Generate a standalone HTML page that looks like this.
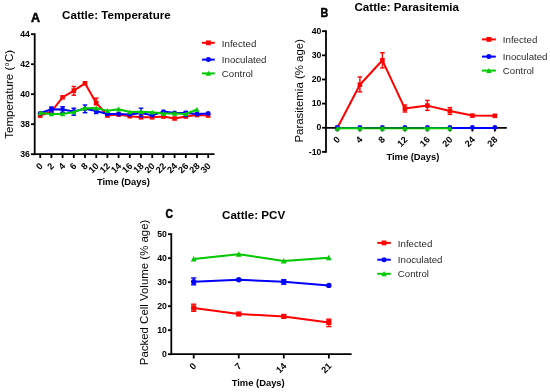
<!DOCTYPE html>
<html><head><meta charset="utf-8"><style>
html,body{margin:0;padding:0;background:#fff;}
svg{display:block;font-family:"Liberation Sans",Arial,sans-serif;}
</style></head><body>
<svg width="550" height="392" viewBox="0 0 550 392">
<rect width="550" height="392" fill="#fff"/>
<line x1="34.7" y1="33.3" x2="34.7" y2="155.1" stroke="#000" stroke-width="1.8"/>
<line x1="33.8" y1="154.2" x2="214.5" y2="154.2" stroke="#000" stroke-width="1.8"/>
<line x1="31" y1="34.2" x2="34.7" y2="34.2" stroke="#000" stroke-width="1.8"/>
<text x="29.8" y="36.8" font-size="8.7" font-weight="bold" text-anchor="end" fill="#000">44</text>
<line x1="31" y1="64.2" x2="34.7" y2="64.2" stroke="#000" stroke-width="1.8"/>
<text x="29.8" y="66.8" font-size="8.7" font-weight="bold" text-anchor="end" fill="#000">42</text>
<line x1="31" y1="94.2" x2="34.7" y2="94.2" stroke="#000" stroke-width="1.8"/>
<text x="29.8" y="96.8" font-size="8.7" font-weight="bold" text-anchor="end" fill="#000">40</text>
<line x1="31" y1="124.2" x2="34.7" y2="124.2" stroke="#000" stroke-width="1.8"/>
<text x="29.8" y="126.8" font-size="8.7" font-weight="bold" text-anchor="end" fill="#000">38</text>
<line x1="31" y1="154.2" x2="34.7" y2="154.2" stroke="#000" stroke-width="1.8"/>
<text x="29.8" y="156.8" font-size="8.7" font-weight="bold" text-anchor="end" fill="#000">36</text>
<line x1="40.2" y1="154.2" x2="40.2" y2="158" stroke="#000" stroke-width="1.8"/>
<text x="43.5" y="166.6" font-size="9.2" font-weight="bold" text-anchor="end" fill="#000" transform="rotate(-45 43.5 166.6)">0</text>
<line x1="51.4" y1="154.2" x2="51.4" y2="158" stroke="#000" stroke-width="1.8"/>
<text x="54.7" y="166.6" font-size="9.2" font-weight="bold" text-anchor="end" fill="#000" transform="rotate(-45 54.7 166.6)">2</text>
<line x1="62.6" y1="154.2" x2="62.6" y2="158" stroke="#000" stroke-width="1.8"/>
<text x="65.9" y="166.6" font-size="9.2" font-weight="bold" text-anchor="end" fill="#000" transform="rotate(-45 65.9 166.6)">4</text>
<line x1="73.8" y1="154.2" x2="73.8" y2="158" stroke="#000" stroke-width="1.8"/>
<text x="77.1" y="166.6" font-size="9.2" font-weight="bold" text-anchor="end" fill="#000" transform="rotate(-45 77.1 166.6)">6</text>
<line x1="85" y1="154.2" x2="85" y2="158" stroke="#000" stroke-width="1.8"/>
<text x="88.3" y="166.6" font-size="9.2" font-weight="bold" text-anchor="end" fill="#000" transform="rotate(-45 88.3 166.6)">8</text>
<line x1="96.2" y1="154.2" x2="96.2" y2="158" stroke="#000" stroke-width="1.8"/>
<text x="99.5" y="166.6" font-size="9.2" font-weight="bold" text-anchor="end" fill="#000" transform="rotate(-45 99.5 166.6)">10</text>
<line x1="107.4" y1="154.2" x2="107.4" y2="158" stroke="#000" stroke-width="1.8"/>
<text x="110.7" y="166.6" font-size="9.2" font-weight="bold" text-anchor="end" fill="#000" transform="rotate(-45 110.7 166.6)">12</text>
<line x1="118.6" y1="154.2" x2="118.6" y2="158" stroke="#000" stroke-width="1.8"/>
<text x="121.9" y="166.6" font-size="9.2" font-weight="bold" text-anchor="end" fill="#000" transform="rotate(-45 121.9 166.6)">14</text>
<line x1="129.8" y1="154.2" x2="129.8" y2="158" stroke="#000" stroke-width="1.8"/>
<text x="133.1" y="166.6" font-size="9.2" font-weight="bold" text-anchor="end" fill="#000" transform="rotate(-45 133.1 166.6)">16</text>
<line x1="141" y1="154.2" x2="141" y2="158" stroke="#000" stroke-width="1.8"/>
<text x="144.3" y="166.6" font-size="9.2" font-weight="bold" text-anchor="end" fill="#000" transform="rotate(-45 144.3 166.6)">18</text>
<line x1="152.2" y1="154.2" x2="152.2" y2="158" stroke="#000" stroke-width="1.8"/>
<text x="155.5" y="166.6" font-size="9.2" font-weight="bold" text-anchor="end" fill="#000" transform="rotate(-45 155.5 166.6)">20</text>
<line x1="163.4" y1="154.2" x2="163.4" y2="158" stroke="#000" stroke-width="1.8"/>
<text x="166.7" y="166.6" font-size="9.2" font-weight="bold" text-anchor="end" fill="#000" transform="rotate(-45 166.7 166.6)">22</text>
<line x1="174.6" y1="154.2" x2="174.6" y2="158" stroke="#000" stroke-width="1.8"/>
<text x="177.9" y="166.6" font-size="9.2" font-weight="bold" text-anchor="end" fill="#000" transform="rotate(-45 177.9 166.6)">24</text>
<line x1="185.8" y1="154.2" x2="185.8" y2="158" stroke="#000" stroke-width="1.8"/>
<text x="189.1" y="166.6" font-size="9.2" font-weight="bold" text-anchor="end" fill="#000" transform="rotate(-45 189.1 166.6)">26</text>
<line x1="197" y1="154.2" x2="197" y2="158" stroke="#000" stroke-width="1.8"/>
<text x="200.3" y="166.6" font-size="9.2" font-weight="bold" text-anchor="end" fill="#000" transform="rotate(-45 200.3 166.6)">28</text>
<line x1="208.2" y1="154.2" x2="208.2" y2="158" stroke="#000" stroke-width="1.8"/>
<text x="211.5" y="166.6" font-size="9.2" font-weight="bold" text-anchor="end" fill="#000" transform="rotate(-45 211.5 166.6)">30</text>
<text x="123.4" y="185" font-size="9.4" font-weight="bold" text-anchor="middle" fill="#000">Time (Days)</text>
<text x="12.8" y="94.3" font-size="11.6" font-weight="normal" text-anchor="middle" fill="#000" transform="rotate(-90 12.8 94.3)">Temperature (°C)</text>
<text x="35.4" y="21.8" font-size="12.5" font-weight="bold" text-anchor="middle" fill="#000" stroke="#000" stroke-width="0.5">A</text>
<text x="116.4" y="18.9" font-size="11.6" font-weight="bold" text-anchor="middle" fill="#000">Cattle: Temperature</text>
<polyline points="40.2,115.6 51.4,111.5 62.6,97.3 73.8,90.6 85,83.3 96.2,102.9 107.4,115.5 118.6,114.6 129.8,116.2 141,117.3 152.2,117.3 163.4,116.5 174.6,118.5 185.8,116.5 197,115 208.2,115.5" fill="none" stroke="#ff0000" stroke-width="2" stroke-linejoin="round"/>
<line x1="73.8" y1="86.5" x2="73.8" y2="95.2" stroke="#ff0000" stroke-width="1.4"/>
<line x1="71.5" y1="86.5" x2="76.1" y2="86.5" stroke="#ff0000" stroke-width="1.4"/>
<line x1="71.5" y1="95.2" x2="76.1" y2="95.2" stroke="#ff0000" stroke-width="1.4"/>
<line x1="96.2" y1="98.1" x2="96.2" y2="104.7" stroke="#ff0000" stroke-width="1.4"/>
<line x1="93.9" y1="98.1" x2="98.5" y2="98.1" stroke="#ff0000" stroke-width="1.4"/>
<line x1="93.9" y1="104.7" x2="98.5" y2="104.7" stroke="#ff0000" stroke-width="1.4"/>
<rect x="37.9" y="113.3" width="4.6" height="4.6" fill="#ff0000"/>
<rect x="49.1" y="109.2" width="4.6" height="4.6" fill="#ff0000"/>
<rect x="60.3" y="95" width="4.6" height="4.6" fill="#ff0000"/>
<rect x="71.5" y="88.3" width="4.6" height="4.6" fill="#ff0000"/>
<rect x="82.7" y="81" width="4.6" height="4.6" fill="#ff0000"/>
<rect x="93.9" y="100.6" width="4.6" height="4.6" fill="#ff0000"/>
<rect x="105.1" y="113.2" width="4.6" height="4.6" fill="#ff0000"/>
<rect x="116.3" y="112.3" width="4.6" height="4.6" fill="#ff0000"/>
<rect x="127.5" y="113.9" width="4.6" height="4.6" fill="#ff0000"/>
<rect x="138.7" y="115" width="4.6" height="4.6" fill="#ff0000"/>
<rect x="149.9" y="115" width="4.6" height="4.6" fill="#ff0000"/>
<rect x="161.1" y="114.2" width="4.6" height="4.6" fill="#ff0000"/>
<rect x="172.3" y="116.2" width="4.6" height="4.6" fill="#ff0000"/>
<rect x="183.5" y="114.2" width="4.6" height="4.6" fill="#ff0000"/>
<rect x="194.7" y="112.7" width="4.6" height="4.6" fill="#ff0000"/>
<rect x="205.9" y="113.2" width="4.6" height="4.6" fill="#ff0000"/>
<polyline points="40.2,113.3 51.4,109.2 62.6,109.5 73.8,111.4 85,108.8 96.2,111 107.4,114 118.6,114 129.8,114.4 141,113 152.2,115.2 163.4,111.6 174.6,113 185.8,113 197,114 208.2,113.5" fill="none" stroke="#0000ff" stroke-width="2" stroke-linejoin="round"/>
<line x1="51.4" y1="107" x2="51.4" y2="112" stroke="#0000ff" stroke-width="1.4"/>
<line x1="49.1" y1="107" x2="53.7" y2="107" stroke="#0000ff" stroke-width="1.4"/>
<line x1="49.1" y1="112" x2="53.7" y2="112" stroke="#0000ff" stroke-width="1.4"/>
<line x1="62.6" y1="106.8" x2="62.6" y2="112.5" stroke="#0000ff" stroke-width="1.4"/>
<line x1="60.3" y1="106.8" x2="64.9" y2="106.8" stroke="#0000ff" stroke-width="1.4"/>
<line x1="60.3" y1="112.5" x2="64.9" y2="112.5" stroke="#0000ff" stroke-width="1.4"/>
<line x1="73.8" y1="108.2" x2="73.8" y2="115.2" stroke="#0000ff" stroke-width="1.4"/>
<line x1="71.5" y1="108.2" x2="76.1" y2="108.2" stroke="#0000ff" stroke-width="1.4"/>
<line x1="71.5" y1="115.2" x2="76.1" y2="115.2" stroke="#0000ff" stroke-width="1.4"/>
<line x1="85" y1="105" x2="85" y2="112.7" stroke="#0000ff" stroke-width="1.4"/>
<line x1="82.7" y1="105" x2="87.3" y2="105" stroke="#0000ff" stroke-width="1.4"/>
<line x1="82.7" y1="112.7" x2="87.3" y2="112.7" stroke="#0000ff" stroke-width="1.4"/>
<line x1="96.2" y1="108.5" x2="96.2" y2="113.5" stroke="#0000ff" stroke-width="1.4"/>
<line x1="93.9" y1="108.5" x2="98.5" y2="108.5" stroke="#0000ff" stroke-width="1.4"/>
<line x1="93.9" y1="113.5" x2="98.5" y2="113.5" stroke="#0000ff" stroke-width="1.4"/>
<line x1="141" y1="108.2" x2="141" y2="116.8" stroke="#0000ff" stroke-width="1.4"/>
<line x1="138.7" y1="108.2" x2="143.3" y2="108.2" stroke="#0000ff" stroke-width="1.4"/>
<line x1="138.7" y1="116.8" x2="143.3" y2="116.8" stroke="#0000ff" stroke-width="1.4"/>
<line x1="185.8" y1="111.5" x2="185.8" y2="116.5" stroke="#0000ff" stroke-width="1.4"/>
<line x1="183.5" y1="111.5" x2="188.1" y2="111.5" stroke="#0000ff" stroke-width="1.4"/>
<line x1="183.5" y1="116.5" x2="188.1" y2="116.5" stroke="#0000ff" stroke-width="1.4"/>
<circle cx="40.2" cy="113.3" r="2.4" fill="#0000ff"/>
<circle cx="51.4" cy="109.2" r="2.4" fill="#0000ff"/>
<circle cx="62.6" cy="109.5" r="2.4" fill="#0000ff"/>
<circle cx="73.8" cy="111.4" r="2.4" fill="#0000ff"/>
<circle cx="85" cy="108.8" r="2.4" fill="#0000ff"/>
<circle cx="96.2" cy="111" r="2.4" fill="#0000ff"/>
<circle cx="107.4" cy="114" r="2.4" fill="#0000ff"/>
<circle cx="118.6" cy="114" r="2.4" fill="#0000ff"/>
<circle cx="129.8" cy="114.4" r="2.4" fill="#0000ff"/>
<circle cx="141" cy="113" r="2.4" fill="#0000ff"/>
<circle cx="152.2" cy="115.2" r="2.4" fill="#0000ff"/>
<circle cx="163.4" cy="111.6" r="2.4" fill="#0000ff"/>
<circle cx="174.6" cy="113" r="2.4" fill="#0000ff"/>
<circle cx="185.8" cy="113" r="2.4" fill="#0000ff"/>
<circle cx="197" cy="114" r="2.4" fill="#0000ff"/>
<circle cx="208.2" cy="113.5" r="2.4" fill="#0000ff"/>
<polyline points="40.2,113 51.4,114 62.6,114 73.8,112 85,108.2 96.2,108.1 107.4,110.7 118.6,109.2 129.8,112 141,111.8 152.2,112.3 163.4,113.6 174.6,113.5 185.8,114 197,109.5" fill="none" stroke="#00c800" stroke-width="2" stroke-linejoin="round"/>
<polygon points="37.6,115.3 42.8,115.3 40.2,110.4" fill="#00c800"/>
<polygon points="48.8,116.3 54,116.3 51.4,111.4" fill="#00c800"/>
<polygon points="60,116.3 65.2,116.3 62.6,111.4" fill="#00c800"/>
<polygon points="71.2,114.3 76.4,114.3 73.8,109.4" fill="#00c800"/>
<polygon points="82.4,110.5 87.6,110.5 85,105.6" fill="#00c800"/>
<polygon points="93.6,110.4 98.8,110.4 96.2,105.5" fill="#00c800"/>
<polygon points="104.8,113 110,113 107.4,108.1" fill="#00c800"/>
<polygon points="116,111.5 121.2,111.5 118.6,106.6" fill="#00c800"/>
<polygon points="127.2,114.3 132.4,114.3 129.8,109.4" fill="#00c800"/>
<polygon points="138.4,114.1 143.6,114.1 141,109.2" fill="#00c800"/>
<polygon points="149.6,114.6 154.8,114.6 152.2,109.7" fill="#00c800"/>
<polygon points="160.8,115.9 166,115.9 163.4,111" fill="#00c800"/>
<polygon points="172,115.8 177.2,115.8 174.6,110.9" fill="#00c800"/>
<polygon points="183.2,116.3 188.4,116.3 185.8,111.4" fill="#00c800"/>
<polygon points="194.4,111.8 199.6,111.8 197,106.9" fill="#00c800"/>
<line x1="202" y1="42.8" x2="214.8" y2="42.8" stroke="#ff0000" stroke-width="2"/>
<rect x="206" y="40.4" width="4.8" height="4.8" fill="#ff0000"/>
<text x="221.8" y="46.6" font-size="9.7" font-weight="normal" text-anchor="start" fill="#2a2a2a">Infected</text>
<line x1="202" y1="59.6" x2="214.8" y2="59.6" stroke="#0000ff" stroke-width="2"/>
<circle cx="208.4" cy="59.6" r="2.5" fill="#0000ff"/>
<text x="221.8" y="63.4" font-size="9.7" font-weight="normal" text-anchor="start" fill="#2a2a2a">Inoculated</text>
<line x1="202" y1="73.4" x2="214.8" y2="73.4" stroke="#00c800" stroke-width="2"/>
<polygon points="205.7,75.8 211.1,75.8 208.4,70.7" fill="#00c800"/>
<text x="221.8" y="77.2" font-size="9.7" font-weight="normal" text-anchor="start" fill="#2a2a2a">Control</text>
<line x1="326" y1="30.3" x2="326" y2="152.8" stroke="#000" stroke-width="1.8"/>
<line x1="325.1" y1="127.8" x2="506.8" y2="127.8" stroke="#000" stroke-width="1.8"/>
<line x1="322" y1="31.2" x2="326" y2="31.2" stroke="#000" stroke-width="1.8"/>
<text x="321.3" y="33.8" font-size="8.7" font-weight="bold" text-anchor="end" fill="#000">40</text>
<line x1="322" y1="55.34" x2="326" y2="55.34" stroke="#000" stroke-width="1.8"/>
<text x="321.3" y="57.94" font-size="8.7" font-weight="bold" text-anchor="end" fill="#000">30</text>
<line x1="322" y1="79.48" x2="326" y2="79.48" stroke="#000" stroke-width="1.8"/>
<text x="321.3" y="82.08" font-size="8.7" font-weight="bold" text-anchor="end" fill="#000">20</text>
<line x1="322" y1="103.62" x2="326" y2="103.62" stroke="#000" stroke-width="1.8"/>
<text x="321.3" y="106.22" font-size="8.7" font-weight="bold" text-anchor="end" fill="#000">10</text>
<line x1="322" y1="127.76" x2="326" y2="127.76" stroke="#000" stroke-width="1.8"/>
<text x="321.3" y="130.36" font-size="8.7" font-weight="bold" text-anchor="end" fill="#000">0</text>
<line x1="322" y1="151.9" x2="326" y2="151.9" stroke="#000" stroke-width="1.8"/>
<text x="321.3" y="154.5" font-size="8.7" font-weight="bold" text-anchor="end" fill="#000">-10</text>
<line x1="337.4" y1="127.8" x2="337.4" y2="131.5" stroke="#000" stroke-width="1.8"/>
<text x="340.7" y="140.2" font-size="9.2" font-weight="bold" text-anchor="end" fill="#000" transform="rotate(-45 340.7 140.2)">0</text>
<line x1="359.9" y1="127.8" x2="359.9" y2="131.5" stroke="#000" stroke-width="1.8"/>
<text x="363.2" y="140.2" font-size="9.2" font-weight="bold" text-anchor="end" fill="#000" transform="rotate(-45 363.2 140.2)">4</text>
<line x1="382.4" y1="127.8" x2="382.4" y2="131.5" stroke="#000" stroke-width="1.8"/>
<text x="385.7" y="140.2" font-size="9.2" font-weight="bold" text-anchor="end" fill="#000" transform="rotate(-45 385.7 140.2)">8</text>
<line x1="404.9" y1="127.8" x2="404.9" y2="131.5" stroke="#000" stroke-width="1.8"/>
<text x="408.2" y="140.2" font-size="9.2" font-weight="bold" text-anchor="end" fill="#000" transform="rotate(-45 408.2 140.2)">12</text>
<line x1="427.4" y1="127.8" x2="427.4" y2="131.5" stroke="#000" stroke-width="1.8"/>
<text x="430.7" y="140.2" font-size="9.2" font-weight="bold" text-anchor="end" fill="#000" transform="rotate(-45 430.7 140.2)">16</text>
<line x1="449.9" y1="127.8" x2="449.9" y2="131.5" stroke="#000" stroke-width="1.8"/>
<text x="453.2" y="140.2" font-size="9.2" font-weight="bold" text-anchor="end" fill="#000" transform="rotate(-45 453.2 140.2)">20</text>
<line x1="472.4" y1="127.8" x2="472.4" y2="131.5" stroke="#000" stroke-width="1.8"/>
<text x="475.7" y="140.2" font-size="9.2" font-weight="bold" text-anchor="end" fill="#000" transform="rotate(-45 475.7 140.2)">24</text>
<line x1="494.9" y1="127.8" x2="494.9" y2="131.5" stroke="#000" stroke-width="1.8"/>
<text x="498.2" y="140.2" font-size="9.2" font-weight="bold" text-anchor="end" fill="#000" transform="rotate(-45 498.2 140.2)">28</text>
<text x="412.9" y="159.6" font-size="9.4" font-weight="bold" text-anchor="middle" fill="#000">Time (Days)</text>
<text x="303" y="90.8" font-size="11.45" font-weight="normal" text-anchor="middle" fill="#000" transform="rotate(-90 303 90.8)">Parasitemia (% age)</text>
<text transform="translate(324.3 16.6) scale(0.84 1)" font-size="12.8" font-weight="bold" text-anchor="middle" stroke="#000" stroke-width="0.5">B</text>
<text x="406.7" y="11.4" font-size="11.6" font-weight="bold" text-anchor="middle" fill="#000">Cattle: Parasitemia</text>
<polyline points="337.4,127.8 359.9,84.7 382.4,60.3 404.9,108.6 427.4,105.6 449.9,111 472.4,115.6 494.9,115.8" fill="none" stroke="#ff0000" stroke-width="2" stroke-linejoin="round"/>
<line x1="359.9" y1="77" x2="359.9" y2="91.8" stroke="#ff0000" stroke-width="1.4"/>
<line x1="357.6" y1="77" x2="362.2" y2="77" stroke="#ff0000" stroke-width="1.4"/>
<line x1="357.6" y1="91.8" x2="362.2" y2="91.8" stroke="#ff0000" stroke-width="1.4"/>
<line x1="382.4" y1="52.7" x2="382.4" y2="67.9" stroke="#ff0000" stroke-width="1.4"/>
<line x1="380.1" y1="52.7" x2="384.7" y2="52.7" stroke="#ff0000" stroke-width="1.4"/>
<line x1="380.1" y1="67.9" x2="384.7" y2="67.9" stroke="#ff0000" stroke-width="1.4"/>
<line x1="404.9" y1="105" x2="404.9" y2="112" stroke="#ff0000" stroke-width="1.4"/>
<line x1="402.6" y1="105" x2="407.2" y2="105" stroke="#ff0000" stroke-width="1.4"/>
<line x1="402.6" y1="112" x2="407.2" y2="112" stroke="#ff0000" stroke-width="1.4"/>
<line x1="427.4" y1="100.4" x2="427.4" y2="110.4" stroke="#ff0000" stroke-width="1.4"/>
<line x1="425.1" y1="100.4" x2="429.7" y2="100.4" stroke="#ff0000" stroke-width="1.4"/>
<line x1="425.1" y1="110.4" x2="429.7" y2="110.4" stroke="#ff0000" stroke-width="1.4"/>
<line x1="449.9" y1="107.6" x2="449.9" y2="114.4" stroke="#ff0000" stroke-width="1.4"/>
<line x1="447.6" y1="107.6" x2="452.2" y2="107.6" stroke="#ff0000" stroke-width="1.4"/>
<line x1="447.6" y1="114.4" x2="452.2" y2="114.4" stroke="#ff0000" stroke-width="1.4"/>
<rect x="335.1" y="125.5" width="4.6" height="4.6" fill="#ff0000"/>
<rect x="357.6" y="82.4" width="4.6" height="4.6" fill="#ff0000"/>
<rect x="380.1" y="58" width="4.6" height="4.6" fill="#ff0000"/>
<rect x="402.6" y="106.3" width="4.6" height="4.6" fill="#ff0000"/>
<rect x="425.1" y="103.3" width="4.6" height="4.6" fill="#ff0000"/>
<rect x="447.6" y="108.7" width="4.6" height="4.6" fill="#ff0000"/>
<rect x="470.1" y="113.3" width="4.6" height="4.6" fill="#ff0000"/>
<rect x="492.6" y="113.5" width="4.6" height="4.6" fill="#ff0000"/>
<polyline points="337.4,128.1 494.9,128.1" fill="none" stroke="#0000ff" stroke-width="2" stroke-linejoin="round"/>
<circle cx="337.4" cy="127.5" r="2.4" fill="#0000ff"/>
<circle cx="359.9" cy="127.5" r="2.4" fill="#0000ff"/>
<circle cx="382.4" cy="127.5" r="2.4" fill="#0000ff"/>
<circle cx="404.9" cy="127.5" r="2.4" fill="#0000ff"/>
<circle cx="427.4" cy="127.5" r="2.4" fill="#0000ff"/>
<circle cx="449.9" cy="127.5" r="2.4" fill="#0000ff"/>
<circle cx="472.4" cy="127.5" r="2.4" fill="#0000ff"/>
<circle cx="494.9" cy="127.5" r="2.4" fill="#0000ff"/>
<polyline points="337.4,128.2 449.9,128.2" fill="none" stroke="#00c800" stroke-width="2.1" stroke-linejoin="round"/>
<line x1="364" y1="128.1" x2="424" y2="128.1" stroke="rgba(0,0,0,0.45)" stroke-width="0.9"/>
<polygon points="334.8,130.7 340,130.7 337.4,125.8" fill="#00c800"/>
<polygon points="357.3,130.7 362.5,130.7 359.9,125.8" fill="#00c800"/>
<polygon points="379.8,130.7 385,130.7 382.4,125.8" fill="#00c800"/>
<polygon points="402.3,130.7 407.5,130.7 404.9,125.8" fill="#00c800"/>
<polygon points="424.8,130.7 430,130.7 427.4,125.8" fill="#00c800"/>
<polygon points="447.3,130.7 452.5,130.7 449.9,125.8" fill="#00c800"/>
<line x1="482" y1="39.4" x2="495.8" y2="39.4" stroke="#ff0000" stroke-width="2"/>
<rect x="486.5" y="37" width="4.8" height="4.8" fill="#ff0000"/>
<text x="502.8" y="43.1" font-size="9.7" font-weight="normal" text-anchor="start" fill="#2a2a2a">Infected</text>
<line x1="482" y1="56.6" x2="495.8" y2="56.6" stroke="#0000ff" stroke-width="2"/>
<circle cx="488.9" cy="56.6" r="2.5" fill="#0000ff"/>
<text x="502.8" y="60.3" font-size="9.7" font-weight="normal" text-anchor="start" fill="#2a2a2a">Inoculated</text>
<line x1="482" y1="70.6" x2="495.8" y2="70.6" stroke="#00c800" stroke-width="2"/>
<polygon points="486.2,73 491.6,73 488.9,67.9" fill="#00c800"/>
<text x="502.8" y="74.3" font-size="9.7" font-weight="normal" text-anchor="start" fill="#2a2a2a">Control</text>
<line x1="171.3" y1="233.3" x2="171.3" y2="355.1" stroke="#000" stroke-width="1.8"/>
<line x1="170.4" y1="354.2" x2="351.6" y2="354.2" stroke="#000" stroke-width="1.8"/>
<line x1="168" y1="234.2" x2="171.3" y2="234.2" stroke="#000" stroke-width="1.8"/>
<text x="166.8" y="236.8" font-size="8.7" font-weight="bold" text-anchor="end" fill="#000">50</text>
<line x1="168" y1="258.2" x2="171.3" y2="258.2" stroke="#000" stroke-width="1.8"/>
<text x="166.8" y="260.8" font-size="8.7" font-weight="bold" text-anchor="end" fill="#000">40</text>
<line x1="168" y1="282.2" x2="171.3" y2="282.2" stroke="#000" stroke-width="1.8"/>
<text x="166.8" y="284.8" font-size="8.7" font-weight="bold" text-anchor="end" fill="#000">30</text>
<line x1="168" y1="306.2" x2="171.3" y2="306.2" stroke="#000" stroke-width="1.8"/>
<text x="166.8" y="308.8" font-size="8.7" font-weight="bold" text-anchor="end" fill="#000">20</text>
<line x1="168" y1="330.2" x2="171.3" y2="330.2" stroke="#000" stroke-width="1.8"/>
<text x="166.8" y="332.8" font-size="8.7" font-weight="bold" text-anchor="end" fill="#000">10</text>
<line x1="168" y1="354.2" x2="171.3" y2="354.2" stroke="#000" stroke-width="1.8"/>
<text x="166.8" y="356.8" font-size="8.7" font-weight="bold" text-anchor="end" fill="#000">0</text>
<line x1="193.7" y1="354.2" x2="193.7" y2="358.5" stroke="#000" stroke-width="1.8"/>
<text x="197" y="366.6" font-size="9.2" font-weight="bold" text-anchor="end" fill="#000" transform="rotate(-45 197 366.6)">0</text>
<line x1="238.75" y1="354.2" x2="238.75" y2="358.5" stroke="#000" stroke-width="1.8"/>
<text x="242.05" y="366.6" font-size="9.2" font-weight="bold" text-anchor="end" fill="#000" transform="rotate(-45 242.05 366.6)">7</text>
<line x1="283.8" y1="354.2" x2="283.8" y2="358.5" stroke="#000" stroke-width="1.8"/>
<text x="287.1" y="366.6" font-size="9.2" font-weight="bold" text-anchor="end" fill="#000" transform="rotate(-45 287.1 366.6)">14</text>
<line x1="328.85" y1="354.2" x2="328.85" y2="358.5" stroke="#000" stroke-width="1.8"/>
<text x="332.15" y="366.6" font-size="9.2" font-weight="bold" text-anchor="end" fill="#000" transform="rotate(-45 332.15 366.6)">21</text>
<text x="258.2" y="385.5" font-size="9.4" font-weight="bold" text-anchor="middle" fill="#000">Time (Days)</text>
<text x="147.6" y="292.4" font-size="11.45" font-weight="normal" text-anchor="middle" fill="#000" transform="rotate(-90 147.6 292.4)">Packed Cell Volume (% age)</text>
<text transform="translate(169.2 217.9) scale(0.86 1)" font-size="12" font-weight="bold" text-anchor="middle" stroke="#000" stroke-width="0.5">C</text>
<text x="253.6" y="218.8" font-size="11.6" font-weight="bold" text-anchor="middle" fill="#000">Cattle: PCV</text>
<polyline points="193.7,307.9 238.75,314 283.8,316.4 328.85,322.4" fill="none" stroke="#ff0000" stroke-width="2" stroke-linejoin="round"/>
<line x1="193.7" y1="304.2" x2="193.7" y2="311.3" stroke="#ff0000" stroke-width="1.4"/>
<line x1="191.1" y1="304.2" x2="196.3" y2="304.2" stroke="#ff0000" stroke-width="1.4"/>
<line x1="191.1" y1="311.3" x2="196.3" y2="311.3" stroke="#ff0000" stroke-width="1.4"/>
<line x1="328.85" y1="319.2" x2="328.85" y2="326.6" stroke="#ff0000" stroke-width="1.4"/>
<line x1="326.25" y1="319.2" x2="331.45" y2="319.2" stroke="#ff0000" stroke-width="1.4"/>
<line x1="326.25" y1="326.6" x2="331.45" y2="326.6" stroke="#ff0000" stroke-width="1.4"/>
<rect x="191.1" y="305.3" width="5.2" height="5.2" fill="#ff0000"/>
<rect x="236.15" y="311.4" width="5.2" height="5.2" fill="#ff0000"/>
<rect x="281.2" y="313.8" width="5.2" height="5.2" fill="#ff0000"/>
<rect x="326.25" y="319.8" width="5.2" height="5.2" fill="#ff0000"/>
<polyline points="193.7,281.7 238.75,279.7 283.8,281.7 328.85,285.4" fill="none" stroke="#0000ff" stroke-width="2" stroke-linejoin="round"/>
<line x1="193.7" y1="278" x2="193.7" y2="284.8" stroke="#0000ff" stroke-width="1.4"/>
<line x1="191.1" y1="278" x2="196.3" y2="278" stroke="#0000ff" stroke-width="1.4"/>
<line x1="191.1" y1="284.8" x2="196.3" y2="284.8" stroke="#0000ff" stroke-width="1.4"/>
<line x1="283.8" y1="279.7" x2="283.8" y2="284.2" stroke="#0000ff" stroke-width="1.4"/>
<line x1="281.2" y1="279.7" x2="286.4" y2="279.7" stroke="#0000ff" stroke-width="1.4"/>
<line x1="281.2" y1="284.2" x2="286.4" y2="284.2" stroke="#0000ff" stroke-width="1.4"/>
<circle cx="193.7" cy="281.7" r="2.7" fill="#0000ff"/>
<circle cx="238.75" cy="279.7" r="2.7" fill="#0000ff"/>
<circle cx="283.8" cy="281.7" r="2.7" fill="#0000ff"/>
<circle cx="328.85" cy="285.4" r="2.7" fill="#0000ff"/>
<polyline points="193.7,258.9 238.75,254.2 283.8,260.9 328.85,257.7" fill="none" stroke="#00c800" stroke-width="2" stroke-linejoin="round"/>
<polygon points="190.8,261.5 196.6,261.5 193.7,256" fill="#00c800"/>
<polygon points="235.85,256.8 241.65,256.8 238.75,251.3" fill="#00c800"/>
<polygon points="280.9,263.5 286.7,263.5 283.8,258" fill="#00c800"/>
<polygon points="325.95,260.3 331.75,260.3 328.85,254.8" fill="#00c800"/>
<line x1="377.3" y1="242.9" x2="390.8" y2="242.9" stroke="#ff0000" stroke-width="2"/>
<rect x="381.65" y="240.5" width="4.8" height="4.8" fill="#ff0000"/>
<text x="397.8" y="246.5" font-size="9.7" font-weight="normal" text-anchor="start" fill="#2a2a2a">Infected</text>
<line x1="377.3" y1="259.7" x2="390.8" y2="259.7" stroke="#0000ff" stroke-width="2"/>
<circle cx="384.05" cy="259.7" r="2.5" fill="#0000ff"/>
<text x="397.8" y="263.3" font-size="9.7" font-weight="normal" text-anchor="start" fill="#2a2a2a">Inoculated</text>
<line x1="377.3" y1="273.8" x2="390.8" y2="273.8" stroke="#00c800" stroke-width="2"/>
<polygon points="381.35,276.2 386.75,276.2 384.05,271.1" fill="#00c800"/>
<text x="397.8" y="277.4" font-size="9.7" font-weight="normal" text-anchor="start" fill="#2a2a2a">Control</text>
</svg>
</body></html>
